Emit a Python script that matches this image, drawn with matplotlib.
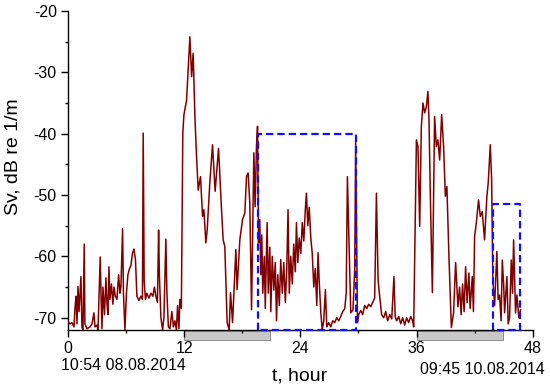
import numpy as np
import matplotlib
matplotlib.use("Agg")
import matplotlib.pyplot as plt
import matplotlib.transforms as mtransforms
from matplotlib.patches import Rectangle
from matplotlib.ticker import MultipleLocator

plt.rcParams["font.family"] = ["Liberation Sans", "DejaVu Sans"]
plt.rcParams["axes.unicode_minus"] = False

# ── Data: volume backscattering strength vs time ─────────────────────────────

T_HOURS = [
    0.00, 0.21, 0.41, 0.62, 0.72, 0.83, 0.93, 1.03, 1.14, 1.24, 1.34, 1.44, 1.55, 1.68, 1.75,
    1.96, 2.27, 2.48, 2.68, 2.79, 2.99, 3.10, 3.33, 3.41, 3.51, 3.61, 3.77, 3.92, 4.02, 4.13,
    4.23, 4.33, 4.49, 4.64, 4.75, 4.90, 5.06, 5.23, 5.37, 5.47, 5.64, 5.73, 5.88, 6.04, 6.19,
    6.35, 6.50, 6.66, 6.81, 6.97, 7.12, 7.33, 7.53, 7.69, 7.77, 7.87, 8.00, 8.15, 8.36, 8.57,
    8.77, 8.93, 9.08, 9.24, 9.36, 9.44, 9.60, 9.77, 9.91, 10.11, 10.22, 10.37, 10.53, 10.73,
    10.89, 11.04, 11.20, 11.32, 11.46, 11.56, 11.71, 11.78, 11.86, 11.97, 12.07,
    12.25, 12.38, 12.59, 12.77, 12.93, 13.11, 13.26, 13.45, 13.69, 13.90, 14.04, 14.24, 14.38,
    14.65, 14.93, 15.20, 15.55, 15.86, 16.03, 16.20, 16.44, 16.65, 16.79, 17.00, 17.34, 17.47,
    17.75, 18.03, 18.27, 18.44, 18.61, 18.78, 18.96, 19.20, 19.33, 19.47, 19.58, 19.68,
    19.81, 19.92, 20.02, 20.12, 20.28, 20.38, 20.57, 20.69, 20.85, 20.95, 21.10, 21.26, 21.41,
    21.54, 21.67, 21.83, 21.98, 22.14, 22.29, 22.45, 22.60, 22.73, 22.86, 23.01, 23.17, 23.32,
    23.48, 23.60, 23.74, 23.89, 24.05, 24.20, 24.36, 24.51, 24.63, 24.77, 24.92, 25.08, 25.23,
    25.39, 25.54, 25.70, 25.83, 25.95, 26.11, 26.26, 26.42, 26.59, 26.73, 26.93, 27.14, 27.35,
    27.55, 27.76, 27.97, 28.17, 28.38, 28.59, 28.74, 28.86, 29.03, 29.21, 29.44, 29.62, 29.72,
    29.90, 30.03, 30.24, 30.44, 30.65, 30.86, 31.06, 31.27, 31.48, 31.68, 31.86, 32.03, 32.20,
    32.40, 32.61, 32.82, 33.02, 33.23, 33.44, 33.67, 33.80, 33.95, 34.16, 34.37, 34.57, 34.78,
    34.98, 35.19, 35.40, 35.60, 35.71, 35.99, 36.15, 36.33, 36.50, 36.67, 36.84, 37.02, 37.18,
    37.29, 37.43, 37.64, 37.87, 38.05, 38.21, 38.39, 38.60, 38.80, 38.98, 39.14, 39.35, 39.60,
    39.83, 40.04, 40.28, 40.45, 40.61, 40.76, 40.92, 41.07, 41.23, 41.41, 41.54, 41.69, 41.76,
    41.88, 42.00, 42.18, 42.41, 42.59, 42.79, 43.03, 43.27, 43.41, 43.62, 43.76, 43.89, 44.07,
    44.30, 44.43, 44.58, 44.74, 44.86, 45.00, 45.10, 45.34, 45.47, 45.61, 45.79, 45.92, 46.03,
    46.23, 46.37, 46.57, 46.75,
]

SV_DB = [
    -70.6, -71.0, -70.8, -71.5, -68.5, -66.5, -71.0, -64.9, -69.0, -66.0, -63.3, -71.5, -72.0, -58.0, -71.0,
    -71.8, -71.5, -71.0, -69.2, -71.5, -71.2, -72.0, -60.1, -66.0, -71.8, -65.0, -69.5, -63.5, -67.5, -69.5,
    -61.7, -67.0, -64.5, -67.8, -65.0, -66.5, -67.0, -63.0, -66.0, -65.0, -55.5, -66.0, -72.0, -66.0, -63.0,
    -62.0, -61.5, -59.5, -58.8, -60.5, -66.5, -67.2, -66.5, -67.0, -39.9, -64.0, -67.0, -66.0, -66.8, -66.0,
    -66.5, -65.0, -66.5, -67.5, -55.7, -63.0, -70.0, -72.0, -70.0, -57.2, -66.0, -71.5, -71.8, -69.0,
    -71.5, -70.5, -72.0, -68.0, -71.8, -67.0, -68.5, -55.0, -40.0, -37.0, -36.1,
    -34.5, -30.5, -24.2, -30.7, -26.9, -37.2, -43.0, -49.2, -47.0, -53.5, -52.4, -57.8, -55.7,
    -48.0, -41.8, -49.4, -42.4, -52.4, -57.3, -58.4, -70.8, -72.0, -65.9, -70.8, -58.9, -65.4,
    -57.3, -54.0, -52.9, -47.0, -46.4, -51.3, -68.7, -43.1, -51.9, -42.1, -38.8, -57.8,
    -54.0, -63.0, -56.5, -66.0, -60.0, -68.5, -54.5, -66.0, -58.5, -69.0, -60.0, -65.5, -61.0,
    -70.5, -63.0, -68.0, -60.5, -66.0, -61.0, -67.5, -62.0, -52.4, -66.0, -60.0, -64.5, -58.0,
    -62.5, -54.5, -61.0, -57.0, -59.5, -54.5, -57.5, -52.5, -49.7, -55.0, -52.0, -57.0, -59.5,
    -65.0, -62.0, -68.0, -59.4, -64.0, -69.0, -72.0, -70.5, -65.4, -71.5, -70.8, -71.5, -70.5,
    -70.8, -70.0, -70.5, -69.8, -69.0, -68.5, -66.0, -47.0, -57.8, -69.2, -68.7, -62.0, -41.0,
    -70.8, -69.5, -68.8, -69.5, -68.0, -68.5, -67.8, -68.2, -67.5, -66.8, -49.7, -63.8, -66.6,
    -69.5, -70.0, -69.0, -70.5, -69.5, -70.2, -63.3, -69.8, -70.5, -69.8, -71.0, -70.0, -71.2,
    -70.0, -70.8, -69.8, -70.5, -71.5, -41.0, -42.1, -55.1, -38.8, -35.0, -36.6, -35.6, -33.1,
    -37.8, -50.2, -65.9, -37.2, -42.1, -41.0, -44.3, -36.9, -42.1, -50.2, -48.6, -60.0, -71.6,
    -69.2, -61.0, -68.2, -65.0, -69.5, -64.5, -69.0, -61.7, -67.5, -62.7, -68.5, -65.0, -63.3,
    -69.0, -56.8, -54.5, -50.8, -53.5, -52.7, -57.3, -50.2, -48.0, -41.8, -47.5, -63.8, -68.0,
    -59.2, -67.0, -66.3, -70.5, -60.6, -64.5, -69.2, -63.3, -71.0, -70.0, -60.6, -66.0, -57.3,
    -69.2, -66.3, -70.0, -68.7,
]

# night periods (grey bars under the time axis), hours
NIGHT_START = [12.0, 36.0]
NIGHT_END = [20.9, 44.9]

# highlighted intervals (blue dashed frames)
BOX_T0 = [19.6, 43.9]
BOX_T1 = [29.8, 46.7]
BOX_TOP = [-40.0, -51.4]

X_MIN, X_MAX = 0, 48
Y_MIN, Y_MAX = -72, -20

W, H = 550, 389

# ── Figure ───────────────────────────────────────────────────────────────────

fig = plt.figure(figsize=(W / 100, H / 100), dpi=100)
ax = fig.add_axes([0.1236, 0.1517, 0.8449, 0.8200])

ax.plot(T_HOURS, SV_DB, color="#800000", linewidth=1.1, zorder=3)

for t0, t1, top in zip(BOX_T0, BOX_T1, BOX_TOP):
    ax.plot([t0, t0, t1, t1, t0], [Y_MIN, top, top, Y_MIN, Y_MIN],
            color="#1010ff", linewidth=1.6, linestyle=(0, (3.3, 1.8)),
            clip_on=False, zorder=5)

trans = mtransforms.blended_transform_factory(ax.transData, ax.transAxes)
for t0, t1 in zip(NIGHT_START, NIGHT_END):
    ax.add_patch(Rectangle((t0, -0.031), t1 - t0, 0.029, transform=trans,
                           facecolor="#c8c8c8", edgecolor="#808080",
                           linewidth=0.6, clip_on=False, zorder=1))

ax.set_xlim(X_MIN, X_MAX)
ax.set_ylim(Y_MIN, Y_MAX)
ax.xaxis.set_major_locator(MultipleLocator(12))
ax.xaxis.set_minor_locator(MultipleLocator(6))
ax.yaxis.set_major_locator(MultipleLocator(10))
ax.yaxis.set_minor_locator(MultipleLocator(5))

for side in ("top", "right"):
    ax.spines[side].set_visible(False)
for side in ("left", "bottom"):
    ax.spines[side].set_linewidth(1.0)

ax.tick_params(which="major", direction="out", length=5, width=1.0,
               labelsize=11.5, pad=3)
ax.tick_params(which="minor", direction="out", length=2.5, width=1.0)

# axis titles and start-time labels, placed in pixel units
fig.text(300 / W, 1 - 376 / H, "t, hour", ha="center", va="center", fontsize=14)
fig.text(13 / W, 1 - 157 / H, "Sv, dB re 1/m", rotation=90,
         ha="center", va="center", fontsize=14)
fig.text(123 / W, 1 - 366 / H, "10:54 08.08.2014", ha="center", va="center",
         fontsize=11.5)
fig.text(482 / W, 1 - 370 / H, "09:45 10.08.2014", ha="center", va="center",
         fontsize=11.5)

fig.savefig("out.png", dpi=100)
